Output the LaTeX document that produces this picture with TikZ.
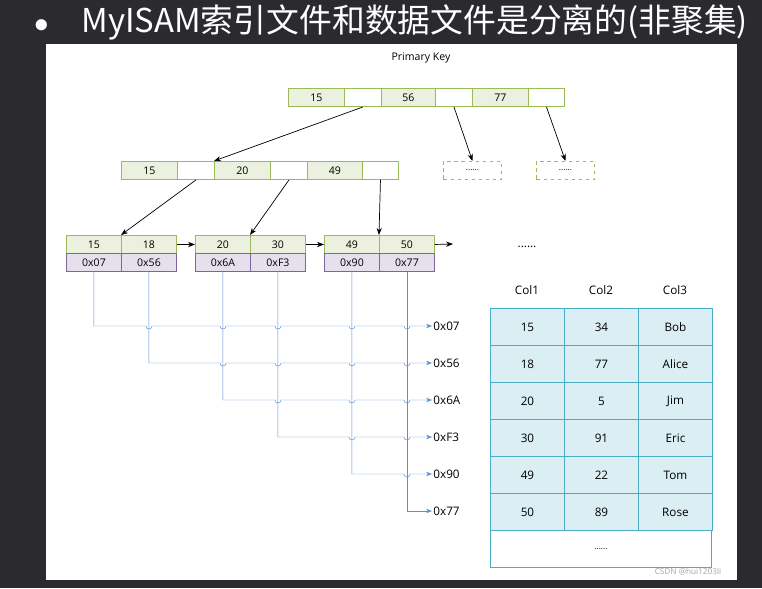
\documentclass[tikz,border=0pt]{standalone}
\usepackage{fontspec}
\setmainfont{Open Sans}
\newfontfamily\cjk{Noto Sans CJK SC}
\usetikzlibrary{arrows.meta}
\definecolor{keyfill}{HTML}{EBF1DE}
\definecolor{keydraw}{HTML}{9BBB59}
\definecolor{ptrfill}{HTML}{E5E0EC}
\definecolor{ptrdraw}{HTML}{8064A2}
\definecolor{rowfill}{HTML}{DAEEF3}
\definecolor{rowdraw}{HTML}{4BACC6}
\definecolor{link}{HTML}{5B8FD6}
\definecolor{slide}{HTML}{2B2B2F}
\tikzset{
  cell/.style={draw=keydraw, thick, fill=keyfill, minimum height=18*0.03cm, inner sep=0pt, anchor=north west, font=\small},
  gap/.style={cell, fill=white},
  ptr/.style={cell, draw=ptrdraw, fill=ptrfill},
  row/.style={draw=rowdraw, thick, fill=rowfill, minimum width=74*0.03cm, minimum height=37*0.03cm, inner sep=0pt, anchor=north west},
  tree/.style={->, >={Stealth[length=6pt]}, semithick},
  addr/.style={link, -{Stealth[length=5pt]}},
}
\begin{document}
\begin{tikzpicture}[x=0.03cm, y=-0.03cm]
				\fill[slide] (0,0) rectangle (762,588);
				\fill[white] (46,44) rectangle (737,580);
				\node[white, font=\cjk\fontsize{28}{30}\selectfont, anchor=west] (title)at(30, 22) {$\bullet$\quad MyISAM索引文件和数据文件是分离的(非聚集)};
				\node[font=\small] (pk)at(421, 58) {Primary Key};
				% root
				\node[cell, minimum width=56*0.03cm] (R1)at(288, 88) {15};
				\node[gap, minimum width=37*0.03cm] (R2)at(344, 88) {};
				\node[cell, minimum width=54*0.03cm] (R3)at(381, 88) {56};
				\node[gap, minimum width=37*0.03cm] (R4)at(435, 88) {};
				\node[cell, minimum width=56*0.03cm] (R5)at(472, 88) {77};
				\node[gap, minimum width=36*0.03cm] (R6)at(528, 88) {};
				% second level
				\node[cell, minimum width=56*0.03cm] (M1)at(121, 161) {15};
				\node[gap, minimum width=37*0.03cm] (M2)at(177, 161) {};
				\node[cell, minimum width=56*0.03cm] (M3)at(214, 161) {20};
				\node[gap, minimum width=37*0.03cm] (M4)at(270, 161) {};
				\node[cell, minimum width=55*0.03cm] (M5)at(307, 161) {49};
				\node[gap, minimum width=36*0.03cm] (M6)at(362, 161) {};
				\node[gap, dashed, minimum width=58*0.03cm] (D1)at(443, 161) {\scriptsize ......};
				\node[gap, dashed, minimum width=58*0.03cm] (D2)at(536, 161) {\scriptsize ......};
				% leaves
				\foreach \x/\k/\p [count=\i] in {66/15/0x07, 121/18/0x56, 195/20/0x6A, 250/30/0xF3, 324/49/0x90, 379/50/0x77}{
					\node[cell, minimum width=55*0.03cm] (K\i)at(\x, 235) {\k};
					\node[ptr, minimum width=55*0.03cm] (P\i)at(\x, 253) {\p};
				}
				\coordinate (E)at(453, 244);
				\node (more)at(527, 247) {......};
				\draw[tree] (R2.south) -- (M3.north west);
				\draw[tree] (R4.south) -- (D1.north);
				\draw[tree] (R6.south) -- (D2.north);
				\draw[tree] (M2.south) -- (K2.north west);
				\draw[tree] (M4.south) -- (K4.north west);
				\draw[tree] (M6.south) -- (K6.north west);
				\draw[tree] (K2.east) -- (K3.west);
				\draw[tree] (K4.east) -- (K5.west);
				\draw[tree] (K6.east) -- (E);
				% data file
				\foreach \t [count=\j] in {Col1, Col2, Col3}
					\node (H\j)at(490+74*\j-37, 290) {\t};
				\foreach \a/\b/\c [count=\i] in {15/34/Bob, 18/77/Alice, 20/5/Jim, 30/91/Eric, 49/22/Tom, 50/89/Rose}{
					\node[row] (T\i a)at(490, 271+37*\i) {\a};
					\node[row] (T\i b)at(564, 271+37*\i) {\b};
					\node[row] (T\i c)at(638, 271+37*\i) {\c};
					\coordinate (A\i)at(432, 289+37*\i);
				}
				\node[row, fill=white, minimum width=221*0.03cm] (Tend)at(490, 530) {\scriptsize ......};
				% addresses
				\foreach \p/\i in {0x07/1, 0x56/2, 0x6A/3, 0xF3/4, 0x90/5, 0x77/6}
					\node[anchor=west, inner sep=1pt] (L\i)at(A\i) {\p};
				\draw[addr] (P1.south) |- (146,326) arc (180:0:3) -- (220,326) arc (180:0:3) -- (275,326) arc (180:0:3) -- (349,326) arc (180:0:3) -- (404,326) arc (180:0:3) -- (A1);
				\draw[addr] (P2.south) |- (220,363) arc (180:0:3) -- (275,363) arc (180:0:3) -- (349,363) arc (180:0:3) -- (404,363) arc (180:0:3) -- (A2);
				\draw[addr] (P3.south) |- (275,400) arc (180:0:3) -- (349,400) arc (180:0:3) -- (404,400) arc (180:0:3) -- (A3);
				\draw[addr] (P4.south) |- (349,437) arc (180:0:3) -- (404,437) arc (180:0:3) -- (A4);
				\draw[addr] (P5.south) |- (404,474) arc (180:0:3) -- (A5);
				\draw[addr] (P6.south) |- (A6);
				\node[gray!70, font=\scriptsize] (mark)at(688, 572) {CSDN @hui1203li};
\end{tikzpicture}
\end{document}
